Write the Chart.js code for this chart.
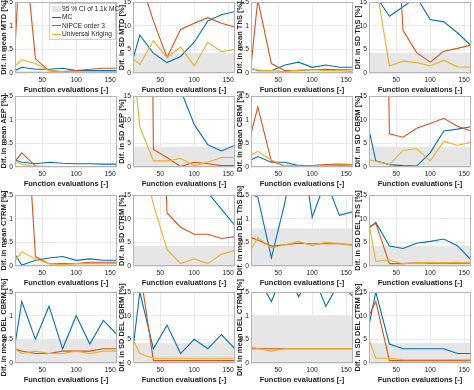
<!DOCTYPE html>
<html><head><meta charset="utf-8">
<script src="https://cdn.jsdelivr.net/npm/chart.js@4/dist/chart.umd.min.js"></script>
<style>
html,body{margin:0;padding:0;background:#fff;width:474px;height:390px;overflow:hidden;position:relative;font-family:"Liberation Sans",Arial,sans-serif;}
canvas.p{position:absolute;}
#legend{position:absolute;left:49px;top:3px;width:67px;height:37px;background:#fff;border:1px solid #cfcfcf;box-sizing:border-box;z-index:5;}
#legend .it{position:absolute;left:0;height:8px;width:66px;font-size:6.6px;line-height:8px;color:#262626;white-space:nowrap;}
#legend .sw{position:absolute;left:2px;top:3.5px;width:9px;height:1.2px;}
#legend .patch{position:absolute;left:2px;top:1px;width:9px;height:6px;background:#e6e6e6;}
#legend .tx{position:absolute;left:12px;top:0;}
</style></head><body>
<div id="legend"></div>
<script>
// ---------- data ----------
const evals = [10, 20, 40, 60, 80, 100, 120, 140, 160];
const xTicks = [50, 100, 150];
const meanTicks = [0, 0.5, 1, 1.5];
const sdTicks = [0, 5, 10, 15];
const xTitle = 'Function evaluations [-]';
const seriesNames = ['95 % CI of 1.1k MC', 'MC', 'NIPCE order 3', 'Universal Kriging'];

// Dif. in mean MTD
const mcMeanMTD  = [0.05, 0.12, 0.08, 0.08, 0.10, 0.05, 0.05, 0.05, 0.05];
const nipMeanMTD = [0.5, 3.3, 0.3, 0.05, 0.03, 0.05, 0.08, 0.10, 0.10];
const krgMeanMTD = [0.15, 0.28, 0.20, 0.05, 0.03, 0.02, 0.02, 0.03, 0.03];
// Dif. in SD MTD
const mcSdMTD  = [3, 8, 4.2, 2.2, 3.5, 6.5, 11, 12.3, 13];
const nipSdMTD = [30, 20, 11, 3.3, 9.2, 10.5, 11.7, 10.5, 9.7];
const krgSdMTD = [3, 1.8, 6.8, 3.3, 5.5, 1.5, 6.5, 4.5, 5];
// Dif. in mean ThS
const mcMeanThS  = [0.10, 0.05, 0.05, 0.17, 0.23, 0.12, 0.17, 0.12, 0.12];
const nipMeanThS = [0.15, 1.55, 0.20, 0.05, 0.05, 0.07, 0.08, 0.07, 0.07];
const krgMeanThS = [0.10, 0.06, 0.05, 0.03, 0.06, 0.07, 0.05, 0.05, 0.03];
// Dif. in SD ThS
const mcSdThS  = [25, 16.3, 12, 14, 16, 11.3, 10.8, 8.5, 5.8];
const nipSdThS = [80, 100, 60, 9, 4.3, 2.3, 4.6, 5.2, 5.9];
const krgSdThS = [25, 19, 1.5, 2.5, 2.2, 1.5, 2.7, 1.3, 1.2];
// Dif. in mean AEP
const mcMeanAEP  = [0.15, 0.10, 0.07, 0.10, 0.08, 0.07, 0.07, 0.06, 0.06];
const nipMeanAEP = [0.12, 0.30, 0.02, 0.01, 0.01, 0.01, 0.01, 0.01, 0.01];
const krgMeanAEP = [0.12, 0.06, 0.01, 0.01, 0.005, 0.005, 0.005, 0.005, 0.005];
// Dif. in SD AEP
const mcSdAEP  = [40, 35, 25, 20, 16.3, 9, 4.7, 3.4, 4.6];
const nipSdAEP = [20, 300, 3.7, 2, 0.1, 1, 0.7, 0.3, 0.3];
const krgSdAEP = [22.6, 8.5, 1.3, 1.3, 1.8, 0.3, 1, 2, 2];
// Dif. in mean CBRM
const mcMeanCBRM  = [0.15, 0.22, 0.10, 0.10, 0.03, 0.03, 0.03, 0.03, 0.05];
const nipMeanCBRM = [0.70, 1.27, 0.12, 0.02, 0.02, 0.03, 0.05, 0.06, 0.05];
const krgMeanCBRM = [0.25, 0.33, 0.15, 0.02, 0.02, 0.02, 0.03, 0.04, 0.04];
// Dif. in SD CBRM
const mcSdCBRM  = [7.8, 1.3, 0.5, 0.3, 0.2, 3, 7.6, 8, 8.5];
const nipSdCBRM = [40, 200, 7, 6.3, 8.2, 9.2, 10.3, 8.6, 7.6];
const krgSdCBRM = [1.5, 1.2, 0.5, 3.5, 3.9, 1.3, 5.4, 4.6, 5.2];
// Dif. in mean CTRM
const mcMeanCTRM  = [0.25, 0.02, 0.12, 0.17, 0.20, 0.12, 0.15, 0.12, 0.12];
const nipMeanCTRM = [3, 5, 0.20, 0.05, 0.05, 0.05, 0.08, 0.08, 0.08];
const krgMeanCTRM = [0.10, 0.30, 0.15, 0.05, 0.03, 0.05, 0.05, 0.05, 0.05];
// Dif. in SD CTRM
const mcSdCTRM  = [60, 50, 40, 30, 25, 20, 15.5, 12, 8.5];
const nipSdCTRM = [50, 100, 100, 11.2, 8.2, 6.7, 6.7, 5.8, 6.2];
const krgSdCTRM = [40, 25, 13, 3.5, 0.5, 1.5, 0.5, 2.5, 3.3];
// Dif. in mean DEL ThS
const mcMeanDThS  = [1.52, 1.45, 0.17, 1.35, 3, 1.03, 1.81, 1.07, 1.15];
const nipMeanDThS = [0.60, 0.55, 0.42, 0.45, 0.48, 0.47, 0.47, 0.47, 0.45];
const krgMeanDThS = [0.35, 0.60, 0.38, 0.45, 0.52, 0.43, 0.50, 0.48, 0.43];
// Dif. in SD DEL ThS
const mcSdDThS  = [8, 9.2, 4.2, 3.7, 4.8, 5.2, 5.7, 4.3, 1.3];
const nipSdDThS = [8.3, 9, 0.5, 0.5, 0.7, 0.6, 0.6, 0.6, 0.6];
const krgSdDThS = [9, 1, 1.2, 0.5, 0.7, 0.8, 0.7, 0.8, 0.7];
// Dif. in mean DEL CBRM
const mcMeanDCBRM  = [0.4, 1.3, 0.5, 1.2, 0.3, 1.0, 0.4, 0.9, 0.6];
const nipMeanDCBRM = [0.30, 0.25, 0.20, 0.20, 0.25, 0.25, 0.25, 0.30, 0.30];
const krgMeanDCBRM = [0.30, 0.20, 0.25, 0.20, 0.20, 0.25, 0.20, 0.25, 0.25];
// Dif. in SD DEL CBRM
const mcSdDCBRM  = [3, 15, 3, 8, 2, 5, 3, 6, 3];
const nipSdDCBRM = [20, 20, 0.5, 0.5, 0.5, 0.5, 0.5, 0.5, 0.5];
const krgSdDCBRM = [5, 2, 1, 1, 1, 1, 1, 1, 1];
// Dif. in mean DEL CTRM
const mcMeanDCTRM  = [1.5, 1.8, 1.3, 2, 1.4, 1.9, 1.2, 1.7, 1.4];
const nipMeanDCTRM = [0.3, 0.3, 0.3, 0.3, 0.3, 0.3, 0.3, 0.3, 0.3];
const krgMeanDCTRM = [0.35, 0.3, 0.25, 0.3, 0.3, 0.3, 0.3, 0.3, 0.3];
// Dif. in SD DEL CTRM
const mcSdDCTRM  = [8, 15, 4, 3, 3, 3, 3, 2, 2];
const nipSdDCTRM = [10, 13, 0.5, 0.5, 0.5, 0.5, 0.5, 0.5, 0.5];
const krgSdDCTRM = [5, 1, 1, 0.7, 0.7, 0.7, 0.7, 0.7, 0.7];

// upper edge of the 95 % CI band of 1.1k MC, per panel
const ciLevels = [0.04, 4.2, 0.03, 4.2, 0.02, 4.3, 0.02, 4.3, 0.03, 4.2, 0.8, 4.2, 0.5, 4.2, 1.0, 4.2];
const yTitles = [
  'Dif. in mean MTD [%]', 'Dif. in SD MTD [%]', 'Dif. in mean ThS [%]', 'Dif. in SD ThS [%]',
  'Dif. in mean AEP [%]', 'Dif. in SD AEP [%]', 'Dif. in mean CBRM [%]', 'Dif. in SD CBRM [%]',
  'Dif. in mean CTRM [%]', 'Dif. in SD CTRM [%]', 'Dif. in mean DEL ThS [%]', 'Dif. in SD DEL ThS [%]',
  'Dif. in mean DEL CBRM [%]', 'Dif. in SD DEL CBRM [%]', 'Dif. in mean DEL CTRM [%]', 'Dif. in SD DEL CTRM [%]'
];
const mcSets  = [mcMeanMTD, mcSdMTD, mcMeanThS, mcSdThS, mcMeanAEP, mcSdAEP, mcMeanCBRM, mcSdCBRM,
                 mcMeanCTRM, mcSdCTRM, mcMeanDThS, mcSdDThS, mcMeanDCBRM, mcSdDCBRM, mcMeanDCTRM, mcSdDCTRM];
const nipSets = [nipMeanMTD, nipSdMTD, nipMeanThS, nipSdThS, nipMeanAEP, nipSdAEP, nipMeanCBRM, nipSdCBRM,
                 nipMeanCTRM, nipSdCTRM, nipMeanDThS, nipSdDThS, nipMeanDCBRM, nipSdDCBRM, nipMeanDCTRM, nipSdDCTRM];
const krgSets = [krgMeanMTD, krgSdMTD, krgMeanThS, krgSdThS, krgMeanAEP, krgSdAEP, krgMeanCBRM, krgSdCBRM,
                 krgMeanCTRM, krgSdCTRM, krgMeanDThS, krgSdDThS, krgMeanDCBRM, krgSdDCBRM, krgMeanDCTRM, krgSdDCTRM];

// ---------- styling / layout ----------
const C_MC = '#0072BD', C_NIP = '#D95319', C_KRG = '#EDB120', C_BAND = '#e6e6e6';
const FONT = '"Liberation Sans", Arial, sans-serif';
const colLeft = [0, 118, 236, 354];
const plotTop = [2, 96, 195, 292];
const PAD_TOP = 14, PLOT_H = 71, XSCALE_H = 21, PAD_BOT = 2, Y_W = 15;
const CANVAS_W = 118, CANVAS_H = PAD_TOP + PLOT_H + XSCALE_H + PAD_BOT;

const boxPlugin = {
  id: 'axbox',
  afterDatasetsDraw(chart) {
    const {ctx, chartArea: a} = chart;
    ctx.save();
    ctx.strokeStyle = '#b4b4b4';
    ctx.lineWidth = 1;
    ctx.strokeRect(Math.round(a.left) + 0.5, Math.round(a.top) + 0.5, Math.round(a.right - a.left) - 1, Math.round(a.bottom - a.top) - 1);
    ctx.restore();
  }
};
const yTitlePlugin = {
  id: 'ytitle',
  afterDraw(chart, args, opts) {
    const {ctx, chartArea: a} = chart;
    ctx.save();
    ctx.font = 'bold 7.5px ' + FONT;
    ctx.fillStyle = '#262626';
    ctx.textAlign = 'center';
    ctx.textBaseline = 'middle';
    ctx.translate(opts.x, (a.top + a.bottom) / 2);
    ctx.rotate(-Math.PI / 2);
    ctx.fillText(opts.text, 0, 0);
    ctx.restore();
  }
};

function pts(arr) { return evals.map((x, i) => ({x, y: arr[i]})); }

for (let k = 0; k < 16; k++) {
  const r = Math.floor(k / 4), c = k % 4;
  const isSd = (k % 2) === 1;
  const yt = isSd ? sdTicks : meanTicks;
  const cv = document.createElement('canvas');
  cv.className = 'p';
  cv.width = CANVAS_W; cv.height = CANVAS_H;
  cv.style.left = colLeft[c] + 'px';
  cv.style.top = (plotTop[r] - PAD_TOP) + 'px';
  cv.style.width = CANVAS_W + 'px'; cv.style.height = CANVAS_H + 'px';
  document.body.appendChild(cv);

  new Chart(cv, {
    type: 'line',
    data: {
      datasets: [
        {label: seriesNames[3], data: pts(krgSets[k]), borderColor: C_KRG, borderWidth: 1.1, pointRadius: 0, fill: false, tension: 0},
        {label: seriesNames[2], data: pts(nipSets[k]), borderColor: C_NIP, borderWidth: 1.1, pointRadius: 0, fill: false, tension: 0},
        {label: seriesNames[1], data: pts(mcSets[k]), borderColor: C_MC, borderWidth: 1.1, pointRadius: 0, fill: false, tension: 0},
        {label: seriesNames[0], data: [{x: evals[0], y: ciLevels[k]}, {x: evals[evals.length - 1], y: ciLevels[k]}],
         borderWidth: 0, borderColor: 'rgba(0,0,0,0)', backgroundColor: C_BAND, pointRadius: 0, fill: 'origin'}
      ]
    },
    options: {
      responsive: false, animation: false, devicePixelRatio: 1,
      layout: {padding: {top: PAD_TOP, right: 1, bottom: PAD_BOT, left: 0}},
      plugins: {legend: {display: false}, tooltip: {enabled: false}, ytitle: {text: yTitles[k], x: 4}},
      scales: {
        x: {
          type: 'linear', min: evals[0], max: evals[evals.length - 1],
          afterBuildTicks: s => { s.ticks = xTicks.map(v => ({value: v})); },
          afterFit: s => { s.height = XSCALE_H; s.paddingLeft = 0; s.paddingRight = 0; },
          ticks: {autoSkip: false, maxRotation: 0, padding: 3.5, color: '#262626', font: {family: FONT, size: 6.8}},
          grid: {color: '#e4e4e4', lineWidth: 0.8, drawTicks: false},
          border: {display: false},
          title: {display: true, text: xTitle, color: '#262626', padding: 0, font: {family: FONT, size: 7.5, weight: 'bold', lineHeight: 1.2}}
        },
        y: {
          type: 'linear', min: yt[0], max: yt[yt.length - 1],
          afterBuildTicks: s => { s.ticks = yt.map(v => ({value: v})); },
          afterFit: s => { s.width = Y_W; s.paddingTop = 0; s.paddingBottom = 0; },
          ticks: {autoSkip: false, padding: 2, color: '#262626', font: {family: FONT, size: 6.8},
                  callback: v => String(+v.toFixed(3))},
          grid: {color: '#e4e4e4', lineWidth: 0.8, drawTicks: false},
          border: {display: false},
          title: {display: false}
        }
      }
    },
    plugins: [boxPlugin, yTitlePlugin]
  });
}

// legend (first panel)
const lg = document.getElementById('legend');
const lgColors = [null, C_MC, C_NIP, C_KRG];
seriesNames.forEach((name, i) => {
  const it = document.createElement('div');
  it.className = 'it';
  it.style.top = (0.5 + i * 8.5) + 'px';
  const sw = document.createElement('div');
  if (i === 0) { sw.className = 'patch'; } else { sw.className = 'sw'; sw.style.background = lgColors[i]; }
  const tx = document.createElement('div');
  tx.className = 'tx'; tx.textContent = name;
  it.appendChild(sw); it.appendChild(tx);
  lg.appendChild(it);
});
</script>
</body></html>
